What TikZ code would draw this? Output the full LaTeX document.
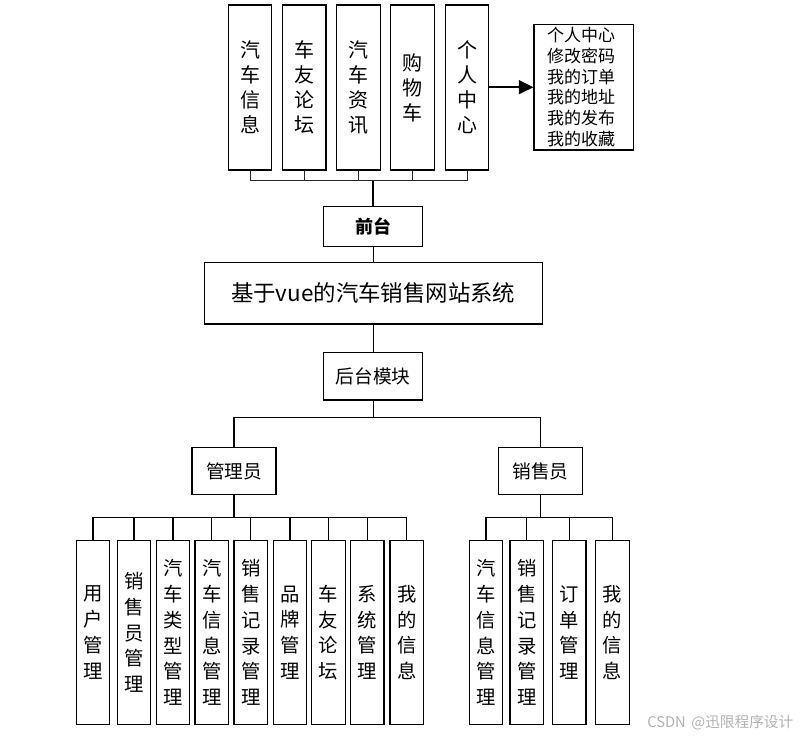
\documentclass[tikz,border=0pt]{standalone}
\usepackage{fontspec}
\setmainfont{Noto Sans CJK SC}
\usepackage{tikz}
\usetikzlibrary{positioning,calc}
\usetikzlibrary{arrows.meta}

\begin{document}
\begin{tikzpicture}[x=0.75pt,y=-0.75pt,
  box/.style={rectangle,draw,line width=0.9pt,inner sep=0pt,align=center},
  topcol/.style={box,minimum width=32.6pt,minimum height=123.75pt,font=\fontsize{15pt}{18.75pt}\selectfont},
  lowcol/.style={box,minimum width=25.1pt,minimum height=137.7pt,font=\fontsize{14.5pt}{19.3pt}\selectfont},
  midbox/.style={box,minimum width=74.25pt,minimum height=35.5pt,font=\fontsize{14pt}{16pt}\selectfont},
  rolebox/.style={box,minimum width=63pt,minimum height=35.25pt,font=\fontsize{14pt}{16pt}\selectfont},
  thinline/.style={line width=0.6pt,black!85},
  link/.style={line width=1pt}]
  \useasboundingbox (0,0) rectangle (810,739);
  % front end
  \foreach \x/\t [count=\i] in {250/{汽\\车\\信\\息},304.3/{车\\友\\论\\坛},358.5/{汽\\车\\资\\讯},412.5/{购\\物\\车},467/{个\\人\\中\\心}}
    \node[topcol] (T\i) at (\x,87.5) {\t};
  \node[box,minimum width=74.5pt,minimum height=94.3pt,font=\fontsize{12.75pt}{15.5pt}\selectfont,align=left] (P) at (583.7,87.2)
    {个人中心\\修改密码\\我的订单\\我的地址\\我的发布\\我的收藏\hspace*{4pt}};
  \draw[line width=1.5pt,-{Triangle[length=11pt,width=10.5pt]}] (T5.east |- P.west) -- (P.west);
  \coordinate (tb) at (373.2,180.7);
  \foreach \i in {1,...,5}
    \draw[thinline] (T\i.south) |- (tb);
  \node[midbox,minimum height=29.6pt,font=\bfseries\fontsize{13.5pt}{16pt}\selectfont] (QT) at (373.2,226.5) {前台};
  \draw[line width=1.3pt] (tb) -- (QT.north);
  % system
  \node[box,minimum width=253.5pt,minimum height=46pt,font=\fontsize{16.8pt}{20pt}\selectfont] (M) at (373.2,293.3) {基于vue的汽车销售网站系统};
  \node[midbox] (HT) at (373.2,376.3) {后台模块};
  \draw[link] (QT) -- (M);
  \draw[link] (M) -- (HT);
  % back end
  \coordinate (hb) at (373.2,417.3);
  \node[rolebox] (G) at (234,471.2) {管理员};
  \node[rolebox] (S) at (540.5,471.2) {销售员};
  \draw[link] (HT.south) -- (hb);
  \draw[link] (hb) -| (G.north);
  \draw[link] (hb) -| (S.north);
  \coordinate (gb) at (234,517.3);
  \coordinate (sb) at (540.5,517.3);
  \draw[link] (G.south) -- (gb);
  \draw[link] (S.south) -- (sb);
  \foreach \x/\t [count=\i] in {93/{用\\户\\管\\理},134/{销\\售\\员\\管\\理},173/{汽\\车\\类\\型\\管\\理},211.8/{汽\\车\\信\\息\\管\\理},250.7/{销\\售\\记\\录\\管\\理},290/{品\\牌\\管\\理},328.5/{车\\友\\论\\坛},367.3/{系\\统\\管\\理},406.7/{我\\的\\信\\息}}{
    \node[lowcol] (G\i) at (\x,632.5) {\t};
    \draw[link] (gb) -| (G\i.north);
  }
  \foreach \x/\t [count=\i] in {486/{汽\\车\\信\\息\\管\\理},526.7/{销\\售\\记\\录\\管\\理},569.3/{订\\单\\管\\理},612.4/{我\\的\\信\\息}}{
    \node[lowcol] (S\i) at (\x,632.5) {\t};
    \draw[link] (sb) -| (S\i.north);
  }
  \node[text=black!30,font=\fontsize{11pt}{13pt}\selectfont,anchor=east] (wm) at (798,723) {CSDN \,@迅限程序设计};
\end{tikzpicture}
\end{document}
